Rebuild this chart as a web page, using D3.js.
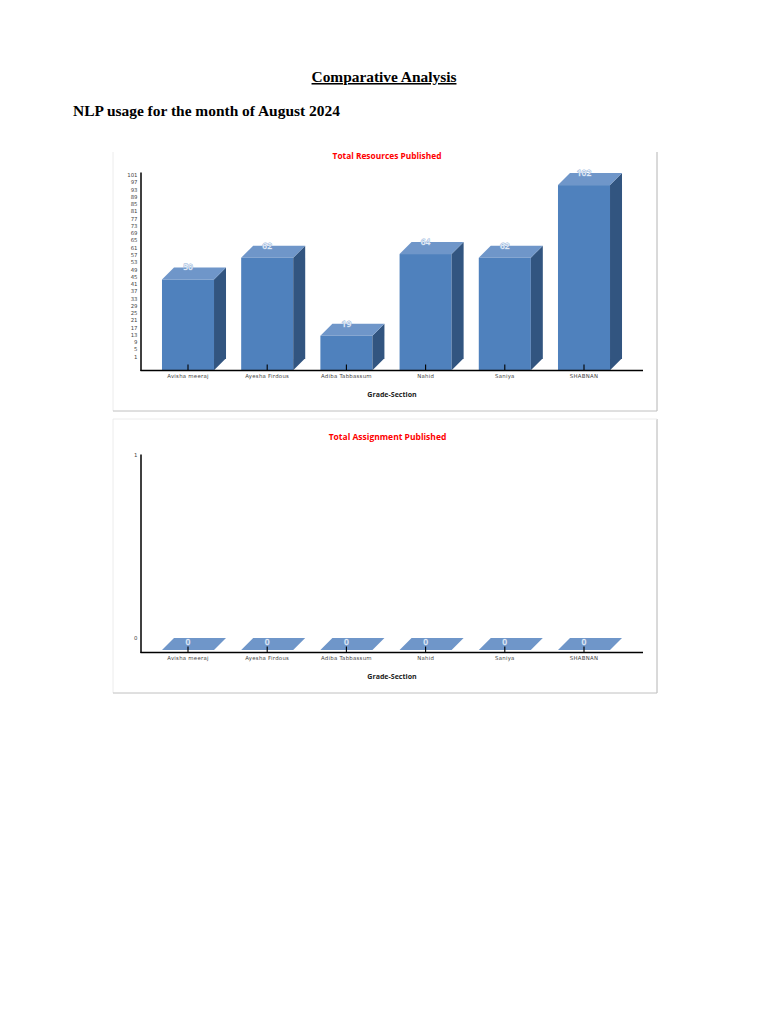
<!DOCTYPE html>
<html>
<head>
<meta charset="utf-8">
<script src="https://cdnjs.cloudflare.com/ajax/libs/d3/7.8.5/d3.min.js"></script>
<style>
  html, body { margin: 0; padding: 0; background: #fff; }
  svg { display: block; }
  .heading { font-family: "Liberation Serif", serif; font-weight: bold; fill: #000; }
  .chart-title { font-family: "Open Sans", sans-serif; font-weight: 700; fill: #fe0000; text-anchor: middle; }
  .x-title { font-family: "Open Sans", sans-serif; font-weight: 700; font-size: 7.05px; fill: #222; text-anchor: middle; }
  .tick text { font-family: "DejaVu Sans", sans-serif; fill: #444; }
</style>
</head>
<body>
<div id="page"></div>
<script>
const pageTitle = "Comparative Analysis"
const pageSubtitle = "NLP usage for the month of August 2024"
const xAxisTitle = "Grade-Section"

const teachers = ["Avisha meeraj", "Ayesha Firdous", "Adiba Tabbassum", "Nahid", "Saniya", "SHABNAN"]

const resourcesPublished = [50, 62, 19, 64, 62, 102]
const resourceTicks = d3.range(1, 102, 4)

const assignmentsPublished = [0, 0, 0, 0, 0, 0]
const assignmentTicks = [0, 1]

const depth = 12 // offset of the 3d bar faces

const svg = d3.select("#page").append("svg")
    .attr("width", 768)
    .attr("height", 1024)

// page headings
svg.append("text")
    .attr("class", "heading")
    .attr("x", 384).attr("y", 82)
    .attr("text-anchor", "middle")
    .style("font-size", "15.4px")
    .style("text-decoration", "underline")
    .text(pageTitle)

svg.append("text")
    .attr("class", "heading")
    .attr("x", 73).attr("y", 116)
    .style("font-size", "15.45px")
    .text(pageSubtitle)

function drawPanel(o) {
    const g = svg.append("g")

    // card edges
    const edges = [
        [113, o.top, 113, o.bottom, "#ececec"],
        [657, o.top, 657, o.bottom, "#b4b4b4"],
        [113, o.bottom, 657, o.bottom, "#c0c0c0"]
    ]
    if (o.topEdge) edges.push([113, o.top, 657, o.top, "#ececec"])
    edges.forEach(e => {
        g.append("line")
            .attr("x1", e[0]).attr("y1", e[1])
            .attr("x2", e[2]).attr("y2", e[3])
            .attr("stroke", e[4])
            .attr("stroke-width", 1)
    })

    g.append("text")
        .attr("class", "chart-title")
        .attr("x", o.titleX).attr("y", o.titleY)
        .style("font-size", o.titleSize + "px")
        .text(o.title)

    const x = d3.scaleBand()
        .domain(teachers)
        .range([148.4, 623.6])
        .paddingInner(0.343)
        .paddingOuter(0.1715)

    const y = d3.scaleLinear()
        .domain(o.domain)
        .range(o.range)

    // bars
    const bars = g.selectAll("g.bar")
        .data(o.values.map((v, i) => ({ name: teachers[i], value: v })))
        .join("g")
        .attr("class", "bar")

    const y0 = y(0)
    const w = x.bandwidth()

    bars.filter(d => d.value > 0).append("rect")
        .attr("x", d => x(d.name))
        .attr("y", d => y(d.value))
        .attr("width", w)
        .attr("height", d => y0 - y(d.value))
        .attr("fill", "#4f81bd")

    bars.filter(d => d.value > 0).append("polygon")
        .attr("points", d => {
            const r = x(d.name) + w
            return [[r, y(d.value)], [r + depth, y(d.value) - depth], [r + depth, y0 - depth], [r, y0]].join(" ")
        })
        .attr("fill", "#325580")

    bars.append("polygon")
        .attr("points", d => {
            const l = x(d.name), t = y(d.value)
            return [[l, t], [l + depth, t - depth], [l + w + depth, t - depth], [l + w, t]].join(" ")
        })
        .attr("fill", "#6f96c9")

    // axes
    const yAxis = d3.axisLeft(y)
        .tickValues(o.ticks)
        .tickFormat(d3.format("d"))
        .tickSize(0)
        .tickPadding(3.5)

    g.append("g")
        .attr("transform", `translate(141,${-depth})`)
        .call(yAxis)
        .call(a => a.select(".domain").remove())
        .selectAll("text")
        .style("font-size", "5.4px")

    const xAxis = d3.axisBottom(x)
        .tickSizeInner(-6)
        .tickSizeOuter(0)
        .tickPadding(3.5)

    g.append("g")
        .attr("transform", `translate(0,${o.baseY})`)
        .call(xAxis)
        .call(a => a.select(".domain").remove())
        .call(a => a.selectAll("line").attr("stroke", "#000").attr("stroke-width", 1.1))
        .selectAll("text")
        .style("font-size", "5.4px")
        .style("letter-spacing", "0.25px")

    g.append("line")
        .attr("x1", 141).attr("y1", o.axisTop)
        .attr("x2", 141).attr("y2", o.baseY + 0.5)
        .attr("stroke", "#000").attr("stroke-width", 1.5)

    g.append("line")
        .attr("x1", 140.5).attr("y1", o.baseY)
        .attr("x2", 643).attr("y2", o.baseY)
        .attr("stroke", "#000").attr("stroke-width", 1.5)

    // value labels with a pale halo
    bars.append("text")
        .attr("x", d => x(d.name) + w / 2)
        .attr("y", d => y(d.value) - o.labelRise)
        .attr("dy", "0.35em")
        .attr("text-anchor", "middle")
        .style("font-family", "'Open Sans', sans-serif")
        .style("font-size", "8.5px")
        .style("font-weight", 600)
        .style("paint-order", "stroke")
        .style("stroke", "#8fb0d8")
        .style("stroke-width", "0.8px")
        .attr("fill", "#e4ecf7")
        .text(d => d.value)

    g.append("text")
        .attr("class", "x-title")
        .attr("x", 392).attr("y", o.baseY + 26)
        .text(xAxisTitle)
}

drawPanel({
    title: "Total Resources Published",
    values: resourcesPublished,
    ticks: resourceTicks,
    domain: [0, 102],
    range: [370.2, 185.1],
    top: 152, bottom: 411, topEdge: false,
    titleX: 387, titleY: 159, titleSize: 8.35,
    axisTop: 172.5, baseY: 370.5,
    labelRise: 12
})

drawPanel({
    title: "Total Assignment Published",
    values: assignmentsPublished,
    ticks: assignmentTicks,
    domain: [0, 1],
    range: [650, 466.5],
    top: 419, bottom: 693, topEdge: true,
    titleX: 387.5, titleY: 440, titleSize: 8.5,
    axisTop: 454.5, baseY: 652.5,
    labelRise: 8
})
</script>
</body>
</html>
